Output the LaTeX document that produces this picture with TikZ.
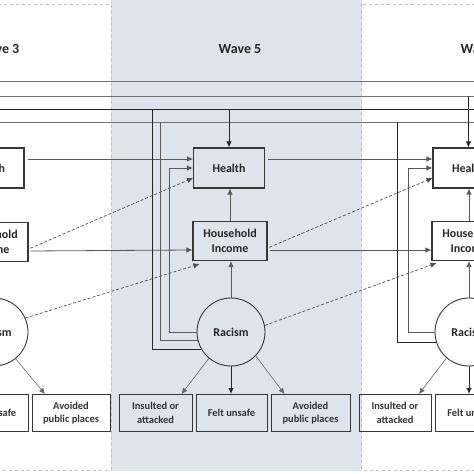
\documentclass[tikz,border=0pt]{standalone}
\usepackage{fontspec}
\setmainfont{Carlito}
\usetikzlibrary{arrows.meta}
\definecolor{paneshade}{RGB}{221,228,235}
\definecolor{inkgrey}{RGB}{55,55,55}
\begin{document}
\begin{tikzpicture}[x=1bp,y=-1bp,
  wbox/.style={draw=inkgrey,line width=1.1bp,minimum width=71bp,minimum height=40bp,inner sep=1bp,align=center,text=black!85,font=\bfseries\fontsize{12}{15}\selectfont},
  obsbox/.style={draw=inkgrey,line width=0.9bp,minimum width=73bp,minimum height=37bp,inner sep=1bp,align=center,text=black!80,font=\bfseries\fontsize{10.5}{13.5}\selectfont},
  latent/.style={draw=inkgrey,circle,line width=0.9bp,minimum size=68bp,inner sep=0pt,text=black!85,font=\bfseries\fontsize{12}{15}\selectfont},
  wave/.style={text=black!85,font=\bfseries\fontsize{14}{16}\selectfont},
  tip/.style={-{Latex[length=6bp,width=5.5bp]}},
  link/.style={draw=black!65,line width=0.8bp},
  strong/.style={draw=black!85,line width=0.95bp},
  thinlink/.style={draw=black!60,line width=0.6bp},
  dlink/.style={draw=black!70,line width=0.7bp,dash pattern=on 3bp off 2bp},
  bus/.style={draw=black!55,line width=0.8bp}]
\useasboundingbox (0,0) rectangle (474,474);
\clip (0,0) rectangle (474,474);
\fill[paneshade] (111,-5) rectangle (361.5,471);
\draw[black!25,dash pattern=on 3bp off 3bp] (-5,4) rectangle (111,470);
\draw[black!25,dash pattern=on 3bp off 3bp] (361.5,4) rectangle (480,470);
\node[wave] (t3) at (-2,49) {Wave 3};
\node[wave] (t5) at (240,49) {Wave 5};
\node[wave] (t7) at (482,49) {Wave 7};
\coordinate (b1w) at (-5,81); \coordinate (b1e) at (480,81);
\coordinate (b2w) at (-5,96); \coordinate (b2e) at (480,96);
\coordinate (b3w) at (-5,109); \coordinate (b3e) at (480,109);
\coordinate (b4w) at (-5,122); \coordinate (b4e) at (480,122);
\draw[bus] (b1w) -- (b1e);
\draw[bus] (b2w) -- (b2e);
\draw[bus,strong] (b3w) -- (b3e);
\draw[bus] (b4w) -- (b4e);
\node[wbox] (h3) at (-11.5,168) {Health};
\node[wbox,minimum width=74bp,minimum height=39bp] (i3) at (-9,242) {Household\\Income};
\node[latent] (r3) at (-6,332) {Racism};
\node[obsbox,minimum width=71bp] (u3) at (-7.5,413) {Felt unsafe};
\node[obsbox,minimum width=78bp] (a3) at (71,413) {Avoided\\public places};
\node[wbox] (h5) at (229,168) {Health};
\node[wbox,minimum width=74bp,minimum height=39bp] (i5) at (230,241) {Household\\Income};
\node[latent] (r5) at (231,332) {Racism};
\node[obsbox] (ins5) at (155.5,413) {Insulted or\\attacked};
\node[obsbox,minimum width=71bp] (u5) at (231.5,413) {Felt unsafe};
\node[obsbox,minimum width=79bp] (a5) at (310.5,413) {Avoided\\public places};
\node[wbox] (h7) at (468.5,168) {Health};
\node[wbox,minimum width=74bp,minimum height=39bp] (i7) at (469,241) {Household\\Income};
\node[latent] (r7) at (469,332) {Racism};
\node[obsbox,minimum width=72bp] (ins7) at (395,413) {Insulted or\\attacked};
\node[obsbox,minimum width=72bp] (u7) at (471,413) {Felt unsafe};
\draw[link,tip,shorten <=3bp] ([yshift=9bp]h3.east) -- ([yshift=9bp]h5.west);
\draw[link,tip,shorten <=2bp] ([yshift=-9bp]i3.east) -- ([yshift=-9bp]i5.west);
\draw[dlink,tip,shorten <=2bp] ([yshift=-7bp]i3.east) -- ([yshift=-10bp]h5.west);
\draw[dlink,tip] (r3.24) -- ([xshift=7bp,yshift=-3bp]i5.south west);
\draw[link,tip,shorten <=3bp] ([yshift=9bp]h5.east) -- ([yshift=9bp]h7.west);
\draw[link,tip,shorten <=2bp] ([yshift=-9bp]i5.east) -- ([yshift=-9bp]i7.west);
\draw[dlink,tip,shorten <=2bp] ([yshift=-7bp]i5.east) -- ([yshift=-10bp]h7.west);
\draw[dlink,tip] (r5.11) -- ([xshift=5bp,yshift=-2bp]i7.south west);
\coordinate (k1) at (152,109);
\coordinate (k2) at (160,122);
\coordinate (k3) at (397,122);
\draw[strong] (r5.210) -| (k1);
\draw[link] (r5.194) -| (k2);
\draw[link,tip] (r5.west) -| ([xshift=-24bp]h5.west) -- (h5.west);
\draw[strong,tip] (h5.north |- b3w) -- (h5.north);
\draw[link,tip] (i5.north) -- (i5.north |- h5.south);
\draw[link,tip] (r5.north) -- (r5.north |- i5.south);
\draw[thinlink,tip] (r5.-130) -- ([xshift=26bp]ins5.north);
\draw[strong,tip] (r5.south) -- (r5.south |- u5.north);
\draw[thinlink,tip] (r5.-44) -- ([xshift=-26bp]a5.north);
\draw[thinlink,tip] (r3.-51) -- ([xshift=-26bp]a3.north);
\draw[strong,tip] (r3.south) -- (r3.south |- u3.north);
\draw[strong] (r7.197) -| (k3);
\draw[link] (r7.west) -| ([xshift=-24bp]h7.west);
\draw[link,tip] ([xshift=-24bp]h7.west) -- (h7.west);
\draw[strong,tip] (h7.north |- b2w) -- (h7.north);
\draw[link,tip] (i7.north) -- (i7.north |- h7.south);
\draw[link,tip] (r7.north) -- (r7.north |- i7.south);
\draw[thinlink,tip] (r7.-131) -- ([xshift=24bp]ins7.north);
\draw[strong,tip] (r7.south) -- (r7.south |- u7.north);
\end{tikzpicture}
\end{document}
